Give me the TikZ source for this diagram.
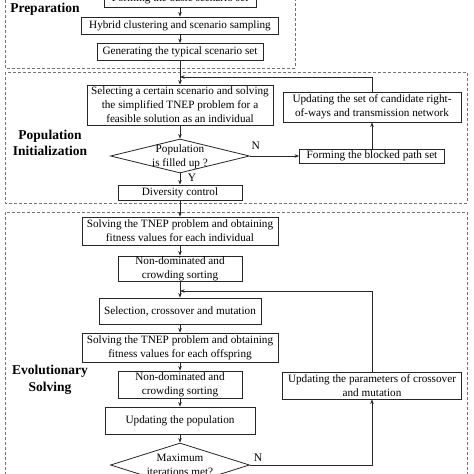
\documentclass[tikz,border=0pt]{standalone}
\usepackage{fontspec}
\setmainfont{Liberation Serif}
\usetikzlibrary{shapes.geometric,arrows.meta}
\begin{document}
\begin{tikzpicture}[x=1pt,y=-1pt,
  font=\fontsize{11.2}{14}\selectfont,
  box/.style={draw=black!85,line width=0.8pt,inner sep=0pt,align=center},
  dia/.style={draw=black!85,line width=0.8pt,shape=diamond,inner sep=0pt},
  frame/.style={draw=black!55,line width=0.9pt,dash pattern=on 3pt off 2pt},
  arr/.style={draw=black!85,line width=0.8pt,-{Stealth[length=4.5pt,width=3.5pt]}},
  lab/.style={font=\fontsize{13.5}{16.5}\selectfont\bfseries,align=center},
  yn/.style={font=\fontsize{11.5}{13}\selectfont}]
\useasboundingbox[fill=white] (0,0) rectangle (474,474);
\begin{scope}
\clip (0,0) rectangle (474,474);
% frames
\draw[frame] (5,-20) rectangle (295,68);
\draw[frame] (5,72) rectangle (467,203);
\draw[frame] (5,212) rectangle (467,520);
% labels
\node[lab] (lprep) at (45,9) {Preparation};
\node[lab] (lpop) at (50,143) {Population\\Initialization};
\node[lab] (levo) at (50,380) {Evolutionary\\Solving};
% preparation
\node[box,minimum width=152,minimum height=17] (basic) at (180,-1.5) {Forming the basic scenario set};
\node[box,minimum width=197,minimum height=17] (hybrid) at (180,25.5) {Hybrid clustering and scenario sampling};
\node[box,minimum width=166,minimum height=17] (gen) at (180,52) {Generating the typical scenario set};
% population
\node[box,minimum width=186,minimum height=40] (sel1) at (180,105) {Selecting a certain scenario and solving\\the simplified TNEP problem for a\\feasible solution as an individual};
\node[box,minimum width=178,minimum height=30] (updset) at (372,107) {Updating the set of candidate right-\\of-ways and transmission network};
\node[dia,minimum width=139,minimum height=34] (d1) at (180,156) {};
\node[align=center] (d1t) at (180,157) {Population\\is filled up ?};
\node[box,minimum width=145,minimum height=14] (block) at (372,156) {Forming the blocked path set};
\node[box,minimum width=124,minimum height=15] (div) at (180,192.5) {Diversity control};
\coordinate (m1) at (180,77);
% evolutionary
\node[box,minimum width=196,minimum height=28] (solv1) at (180,231) {Solving the TNEP problem and obtaining\\fitness values for each individual};
\node[box,minimum width=124,minimum height=25] (nd1) at (180,268.5) {Non-dominated and\\crowding sorting};
\node[box,minimum width=162,minimum height=26] (selx) at (180,311) {Selection, crossover and mutation};
\node[box,minimum width=196,minimum height=29] (solv2) at (180,347.5) {Solving the TNEP problem and obtaining\\fitness values for each offspring};
\node[box,minimum width=124,minimum height=27] (nd2) at (180,384.5) {Non-dominated and\\crowding sorting};
\node[box,minimum width=150,minimum height=27] (updpop) at (180,420.5) {Updating the population};
\node[dia,minimum width=139,minimum height=44] (d2) at (180,465) {};
\node[align=center] (d2t) at (180,465) {Maximum\\iterations met?};
\node[box,minimum width=179,minimum height=27] (updpar) at (372,385.5) {Updating the parameters of crossover\\and mutation};
\coordinate (m2) at (180,291);
% arrows
\draw[arr] (basic) -- (hybrid);
\draw[arr] (hybrid) -- (gen);
\draw[arr] (gen) -- (sel1);
\draw[arr] (sel1) -- (d1);
\draw[arr] (d1.east) -- node[yn,above,pos=0.12,yshift=3pt] (nlab1) {N} (block.west);
\draw[arr] (block) -- (updset);
\draw[arr] (updset.north) |- (m1);
\draw[arr] (d1.south) -- (div.north);
\node[yn] (ylab) at (192,178) {Y};
\draw[arr] (div) -- (solv1);
\draw[arr] (solv1) -- (nd1);
\draw[arr] (nd1) -- (selx);
\draw[arr] (updpar.north) |- (m2);
\draw[arr] (selx) -- (solv2);
\draw[arr] (solv2) -- (nd2);
\draw[arr] (nd2) -- (updpop);
\draw[arr] (updpop) -- (d2);
\draw[arr] (d2.east) -| (updpar.south);
\node[yn] (nlab2) at (258,458) {N};
\end{scope}
\end{tikzpicture}
\end{document}
